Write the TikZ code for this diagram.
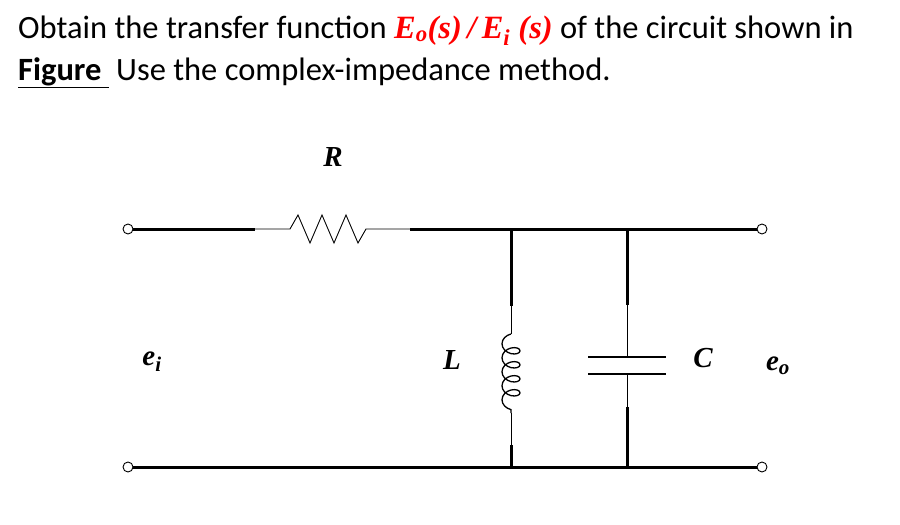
\documentclass[tikz,border=0pt]{standalone}
\usepackage{fontspec}
\setmainfont{Carlito}
\newfontfamily\mathser{Liberation Serif}
\usetikzlibrary{decorations.pathmorphing}
\begin{document}
\begin{tikzpicture}[x=1pt,y=-1pt,
  thick wire/.style={line width=3pt},
  thin wire/.style={line width=0.9pt},
  term/.style={circle,draw,line width=0.9pt,fill=white,inner sep=0pt,minimum size=10pt},
  lab/.style={font=\mathser\bfseries\itshape\fontsize{29}{32}\selectfont}]
\useasboundingbox (0,0) rectangle (900,525);
\node[anchor=base west,inner sep=0pt,font=\fontsize{32.5}{36}\selectfont] (t1) at (18,38) {Obtain the transfer function \textcolor{red}{\mathser\bfseries\itshape E\textsubscript{o}(s)\,/\,E\textsubscript{i} (s)} of the circuit shown in};
\node[anchor=base west,inner sep=0pt,font=\fontsize{32.5}{36}\selectfont] (t2) at (18,80) {\textbf{\underline{Figure }} Use the complex-impedance method.};
\coordinate (a1) at (128,229); \coordinate (a2) at (762,229);
\coordinate (b1) at (128,467); \coordinate (b2) at (762,467);
\coordinate (r0) at (255,229); \coordinate (r1) at (410,229);
\coordinate (lt) at (511,229); \coordinate (lb) at (511,467);
\coordinate (ct) at (627,229); \coordinate (cb) at (627,467);
\draw[thick wire] (a1) -- (r0);
\draw[thin wire] (r0) -- (290,229) -- (298,215) -- (310,243) -- (322,215) -- (334,243) -- (346,215) -- (358,243) -- (366,229) -- (r1);
\draw[thick wire] (r1) -- (a2);
\draw[thick wire] (b1) -- (b2);
\draw[thick wire] (lt) -- (511,306);
\draw[thin wire] (511,306) -- (511,334);
\draw[line width=1.3pt,decorate,decoration={coil,aspect=0.7,amplitude=9pt,segment length=14pt,mirror}] (511,334) -- (511,413);
\draw[thin wire] (511,413) -- (511,445);
\draw[thick wire] (511,445) -- (lb);
\draw[thick wire] (ct) -- (627,305);
\draw[thin wire] (627,305) -- (627,357);
\draw[line width=2.4pt] (588,357) -- (666,357);
\draw[line width=2.4pt] (588,374) -- (666,374);
\draw[thin wire] (627,374) -- (627,407);
\draw[thick wire] (627,407) -- (cb);
\node[term] (ta1) at (a1) {}; \node[term] (ta2) at (a2) {};
\node[term] (tb1) at (b1) {}; \node[term] (tb2) at (b2) {};
\node[lab] (R) at (333,157) {R};
\node[lab] (L) at (452,360) {L};
\node[lab] (C) at (703,358) {C};
\node[lab] (ei) at (152,362) {e\textsubscript{\fontsize{21}{24}\selectfont i}};
\node[lab] (eo) at (778,366) {e\textsubscript{\fontsize{21}{24}\selectfont o}};
\end{tikzpicture}
\end{document}
